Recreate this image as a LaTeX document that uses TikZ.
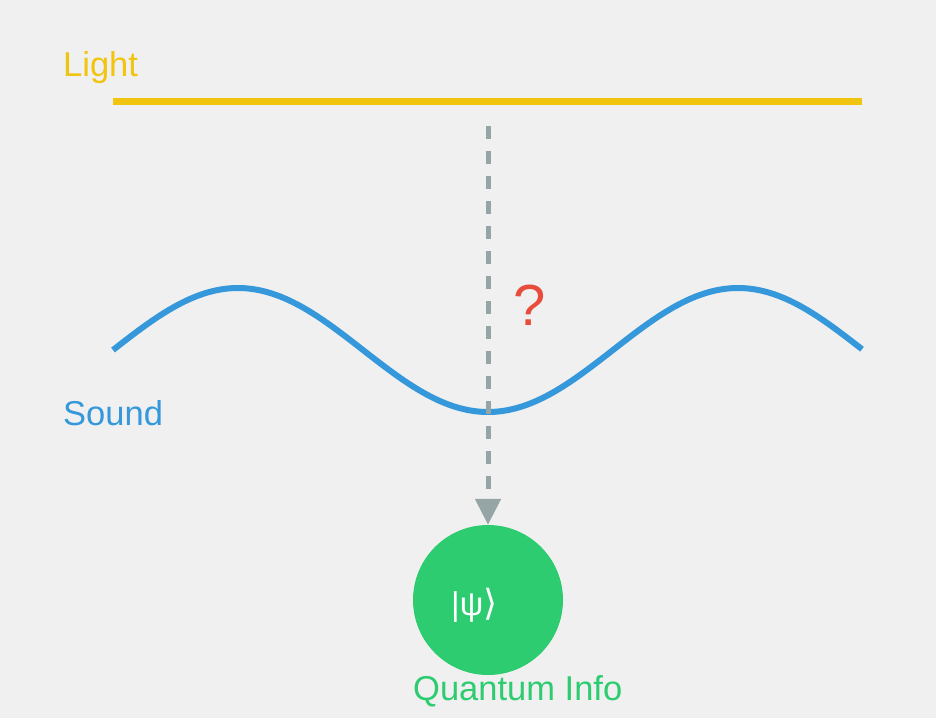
\documentclass[tikz,border=0pt]{standalone}
\usepackage{fontspec}
\setmainfont{Liberation Sans}
\newfontfamily\djv{DejaVu Sans}
\usetikzlibrary{arrows.meta}
\definecolor{bgc}{HTML}{F0F0F0}
\definecolor{lightc}{HTML}{F1C40F}
\definecolor{soundc}{HTML}{3498DB}
\definecolor{grayc}{HTML}{95A5A6}
\definecolor{redc}{HTML}{E74C3C}
\definecolor{greenc}{HTML}{2ECC71}
\tikzset{
  lbl/.style={inner sep=0pt, anchor=base west, font=\fontsize{34.5}{40}\selectfont},
}
\begin{document}
\begin{tikzpicture}[x=1pt,y=-1pt]
\fill[bgc] (0,0) rectangle (936,718);
\useasboundingbox (0,0) rectangle (936,718);
% light
\coordinate (l1) at (113,101);
\coordinate (l2) at (862,101);
\draw[lightc, line width=7pt] (l1) -- (l2);
\node[lbl, text=lightc] (light) at (63,76) {Light};
% sound
\draw[soundc, line width=6pt] plot[domain=113:862, samples=240, smooth] (\x, {350 - 62*sin(0.72*(\x-113))});
\node[lbl, text=soundc] (sound) at (63,425) {Sound};
% quantum
\node[circle, fill=greenc, minimum size=150pt, inner sep=0pt] (q) at (488,600) {};
\node[inner sep=0pt, anchor=base west, text=white, font=\fontsize{33}{38}\selectfont] (psi) at (451,615) {|ψ{\djv\fontsize{36}{40}\selectfont ⟩}};
\node[lbl, text=greenc] (qi) at (413,700) {Quantum Info};
% arrow
\coordinate (top) at (488,126);
\draw[grayc, line width=5pt, dash pattern=on 13pt off 12pt, -{Triangle[length=26pt, width=25pt]}] (top) -- (q.north);
\node[inner sep=0pt, anchor=base west, text=redc, font=\fontsize{58}{64}\selectfont] (qm) at (513,325) {?};
\end{tikzpicture}
\end{document}
